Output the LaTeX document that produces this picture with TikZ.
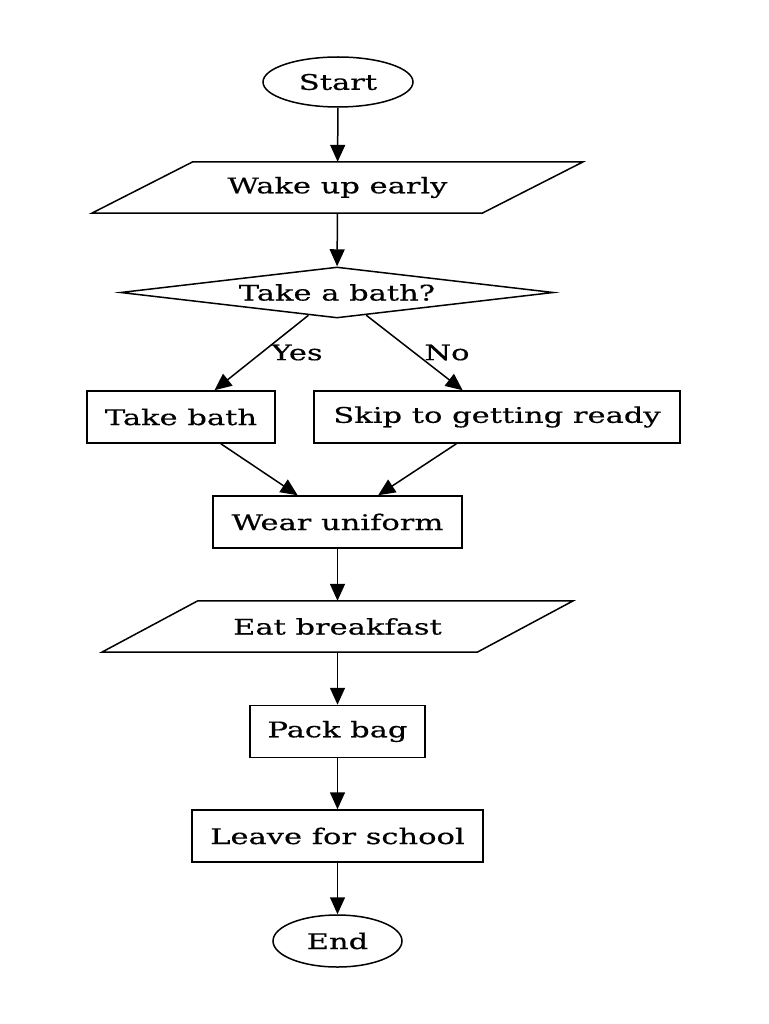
\documentclass[tikz,border=0pt]{standalone}
\usepackage{fontspec}
\setmainfont[FakeStretch=1.42,FakeBold=0.4]{DejaVu Serif}
\usetikzlibrary{shapes.geometric,arrows.meta,calc}
\begin{document}
\begin{tikzpicture}[x=1pt,y=-1pt,
  every node/.style={font=\fontsize{21.5}{25}\selectfont, inner sep=0pt},
  box/.style={draw, line width=1.5pt, rectangle, minimum height=52pt},
  oval/.style={draw, line width=1.5pt, ellipse},
  anchorbox/.style={rectangle, minimum height=51pt},
  dia/.style={draw, line width=1.5pt, diamond, aspect=8.5, minimum width=433pt, minimum height=51pt},
  edge/.style={line width=1.5pt, -{Triangle[length=17pt,width=15pt]}},
  lbl/.style={fill=none}
]
\useasboundingbox (0,0) rectangle (768,1024);
\fill[white] (0,0) rectangle (768,1024);

\node[oval, minimum width=150pt, minimum height=50pt] (start) at (338,82) {Start};
\node[anchorbox, minimum width=390pt] (wake) at (337.5,187.5) {Wake up early};
\draw[line width=1.5pt] ($(wake.north west)+(50.5,0)$) -- ($(wake.north east)+(50.5,0)$)
  -- ($(wake.south east)+(-50.5,0)$) -- ($(wake.south west)+(-50.5,0)$) -- cycle;
\node[dia] (bath) at (337,292.5) {Take a bath?};
\node[box, minimum width=188pt] (tb) at (181,417) {Take bath};
\node[box, minimum width=366pt] (skip) at (497,417) {Skip to getting ready};
\node[box, minimum width=249pt] (wear) at (337.5,522) {Wear uniform};
\node[anchorbox, minimum width=375pt] (eat) at (337.5,626.5) {Eat breakfast};
\draw[line width=1.5pt] ($(eat.north west)+(48,0)$) -- ($(eat.north east)+(48,0)$)
  -- ($(eat.south east)+(-48,0)$) -- ($(eat.south west)+(-48,0)$) -- cycle;
\node[box, minimum width=175pt] (pack) at (337.5,731.5) {Pack bag};
\node[box, minimum width=291pt] (leave) at (337.5,836) {Leave for school};
\node[oval, minimum width=129pt, minimum height=52pt] (end) at (337.5,941) {End};

\draw[edge] (start) -- (wake);
\draw[edge] (wake) -- (bath);
\draw[edge] (bath) -- (tb);
\draw[edge] (bath) -- (skip);
\draw[edge] (tb) -- (wear);
\draw[edge] (skip) -- (wear);
\draw[edge] (wear) -- (eat);
\draw[edge] (eat) -- (pack);
\draw[edge] (pack) -- (leave);
\draw[edge] (leave) -- (end);

\node[lbl] (yes) at (297,352.5) {Yes};
\node[lbl] (no) at (447,352.5) {No};
\end{tikzpicture}
\end{document}
